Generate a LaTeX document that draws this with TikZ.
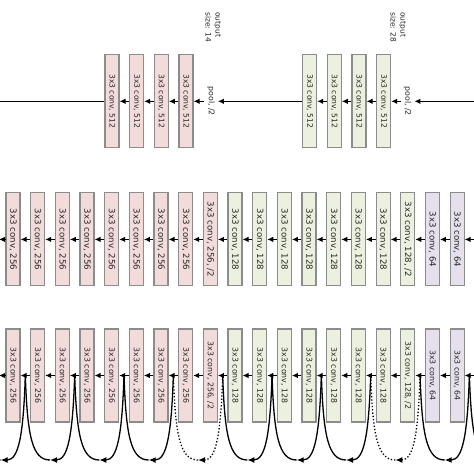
\documentclass[tikz,border=0pt]{standalone}
\usepackage{graphicx}
\usepackage{fontspec}
\setmainfont{DejaVu Sans}
\usetikzlibrary{arrows.meta}

\definecolor{cpink}{RGB}{242,220,219}
\definecolor{cgreen}{RGB}{235,241,222}
\definecolor{cpurple}{RGB}{229,224,236}
\definecolor{cedge}{RGB}{140,140,140}

\tikzset{
  conv/.style={draw=cedge, line width=1.1pt, minimum width=14pt, minimum height=93pt, inner sep=0pt, text=black!85},
  pool/.style={inner sep=3pt, text=black!85, font=\fontsize{7.8}{9}\selectfont},
  outlbl/.style={inner sep=0pt, align=left, text=black!85, font=\fontsize{7.5}{10}\selectfont},
  flow/.style={-{Latex[length=6pt,width=5.5pt]}, line width=1pt},
  link/.style={line width=1.3pt},
  skip/.style={link, -{Latex[length=7pt,width=6pt]}}
}

\begin{document}
\begin{tikzpicture}[x=1pt,y=-1pt]
\xdef\pitch{24.67}
\xdef\ytop{101.3}
\useasboundingbox (0,0) rectangle (474,474);
\clip (0,0) rectangle (474,474);
\foreach \x/\n in {112/1,136.67/2,161.33/3,186/4}
  \node[conv, fill=cpink, font=\fontsize{7.6}{9}\selectfont] (t\n) at (\x,\ytop) {\rotatebox{-90}{3x3 conv, 512}};
\foreach \x/\n in {309.67/1,334.33/2,359/3,383.67/4}
  \node[conv, fill=cgreen, font=\fontsize{7.6}{9}\selectfont] (g\n) at (\x,\ytop) {\rotatebox{-90}{3x3 conv, 512}};
\node[pool] (p1) at (211,\ytop) {\rotatebox{-90}{pool, /2}};
\node[pool] (p2) at (407.5,\ytop) {\rotatebox{-90}{pool, /2}};
\node[outlbl, rotate=-90, anchor=north west] (o1) at (221,12) {output\\size: 14};
\node[outlbl, rotate=-90, anchor=north west] (o2) at (406,12) {output\\size: 28};
\coordinate (tw) at (-20,\ytop);
\coordinate (te) at (490,\ytop);
\draw[flow] (t1) -- (tw);
\draw[flow] (t2) -- (t1);
\draw[flow] (t3) -- (t2);
\draw[flow] (t4) -- (t3);
\draw[flow] (p1) -- (t4);
\draw[flow] (g1) -- (p1);
\draw[flow] (g2) -- (g1);
\draw[flow] (g3) -- (g2);
\draw[flow] (g4) -- (g3);
\draw[flow] (p2) -- (g4);
\draw[flow] (te) -- (p2);
\foreach \y/\r/\s in {239.4/m/8.6,375.5/d/7.8}{
  \foreach \k/\f/\t in {0/cpink/256,1/cpink/256,2/cpink/256,3/cpink/256,4/cpink/256,5/cpink/256,6/cpink/256,7/cpink/256,8/cpink/{256, /2},9/cgreen/128,10/cgreen/128,11/cgreen/128,12/cgreen/128,13/cgreen/128,14/cgreen/128,15/cgreen/128,16/cgreen/{128, /2},17/cpurple/64,18/cpurple/64}
    \node[conv, fill=\f, font=\fontsize{\s}{10}\selectfont] (\r\k) at ({13+\k*\pitch},\y) {\rotatebox{-90}{3x3 conv, \t}};
  \coordinate (w\r) at (-1,\y);
  \coordinate (e\r) at (490,\y);
  \draw[flow] (\r0) -- (w\r);
  \draw[flow] (e\r) -- (\r18);
  \foreach \k [evaluate=\k as \j using int(\k+1)] in {0,...,17}
    \draw[flow] (\r\j) -- (\r\k);
}
\foreach \m in {-1,...,10}
  \coordinate (j\m) at ({25.33+\m*2*\pitch},375.5);
\foreach \m in {-1,...,9}
  \coordinate (u\m) at ({25.33+(2*\m+1)*\pitch},460);
\foreach \m/\n/\ls in {-1/0/solid,0/1/solid,1/2/solid,2/3/solid,3/4/dotted,4/5/solid,5/6/solid,6/7/solid,7/8/dotted,8/9/solid,9/10/solid}{
  \draw[skip,\ls] (j\n) .. controls +(-2,60) and +(18,0) .. (u\m);
  \draw[link,\ls] (u\m) .. controls +(-18,0) and +(2,60) .. (j\m);
}
\end{tikzpicture}
\end{document}
